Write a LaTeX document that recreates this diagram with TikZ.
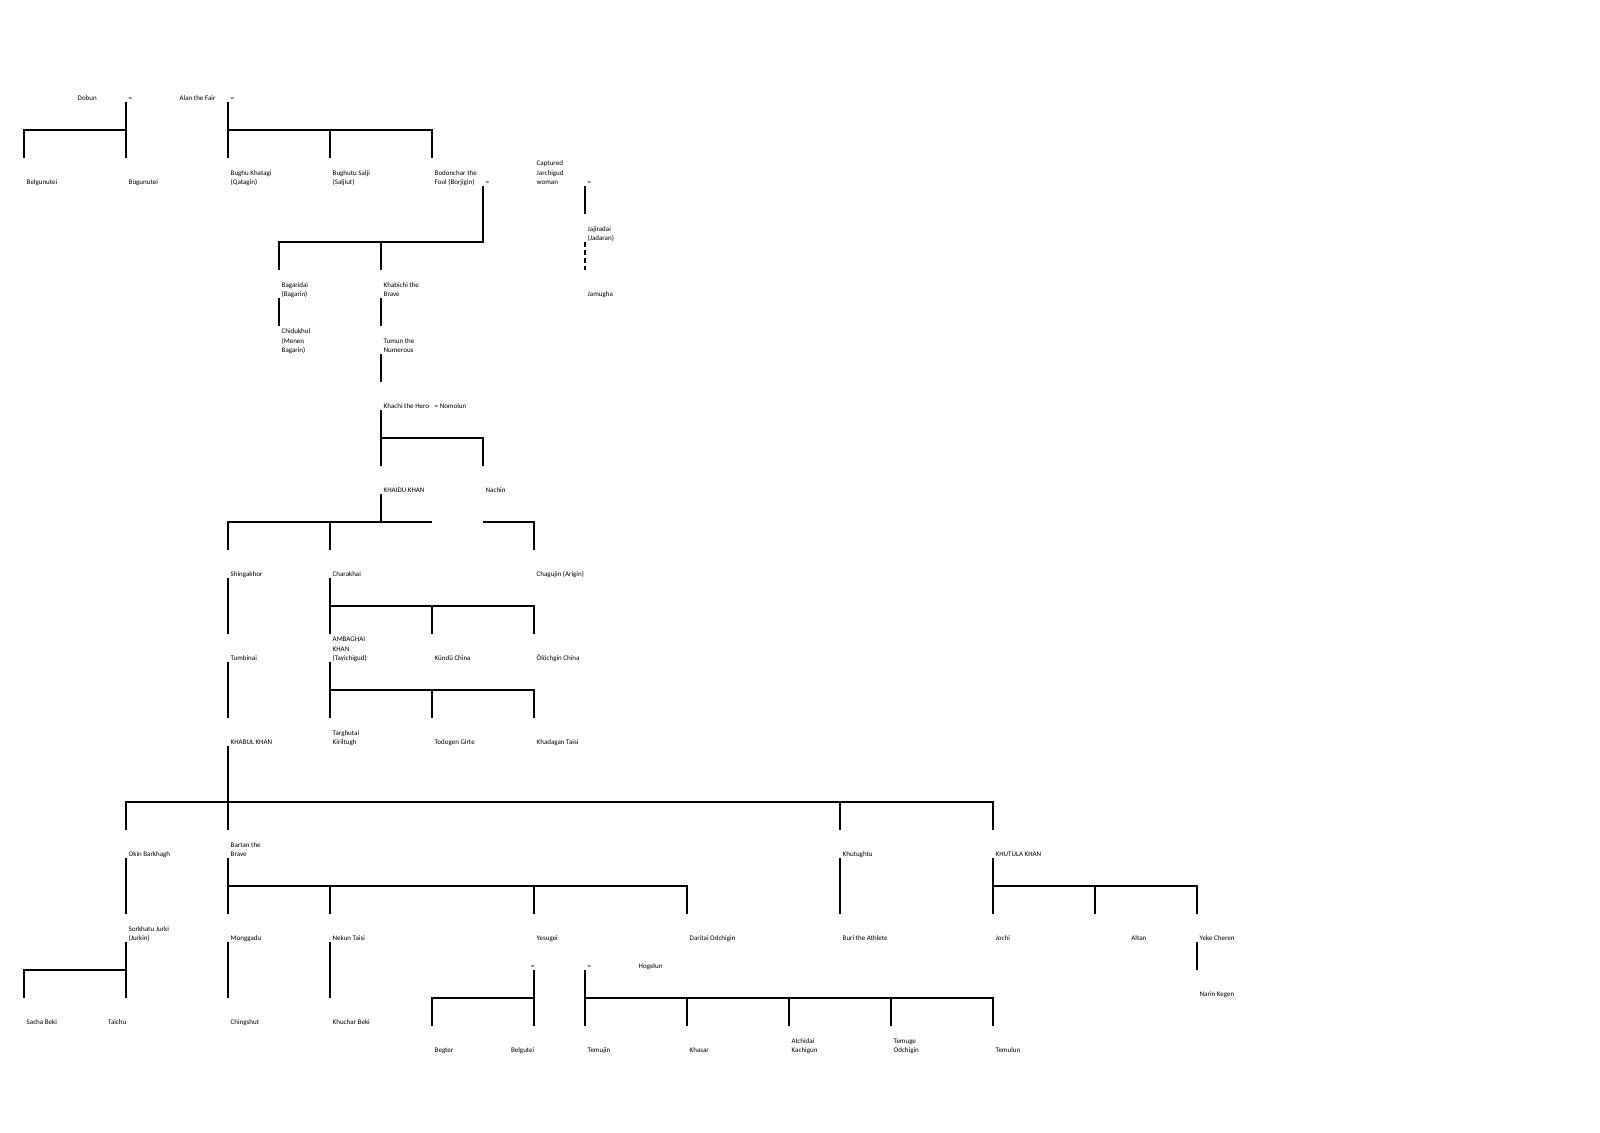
\documentclass[tikz,border=0pt]{standalone}
\usepackage{fontspec}
\setmainfont{Carlito}
\usetikzlibrary{calc}

\begin{document}
\begin{tikzpicture}[x=1pt,y=-1pt,
    kin/.style={line width=2.2pt},
    lbl/.style={anchor=base west,inner sep=0pt,xshift=2.5pt,yshift=1.8pt,align=left,font=\fontsize{7}{9.2}\selectfont},
    lblr/.style={lbl,anchor=base east,xshift=-2pt,align=right}]
            % Define the cell width and the row height of the sheet
            \def\cw{51}  % width of a column
            \def\rh{28}  % height of a row

            \useasboundingbox (0,0) rectangle (1600,1132);

            % Calculate the corners of the cells
            \foreach \k in {0,...,23}{
              \foreach \r in {0,...,34}{
                \coordinate (C\k-\r) at ({24+\cw*\k},{102+\rh*\r});
              }
            }

            % Draw the names
            \node[lbl] (dobun) at (C1-0) {Dobun};
            \node[lbl] (eqa) at (C2-0) {=};
            \node[lbl] (alan) at (C3-0) {Alan the Fair};
            \node[lbl] (eqb) at (C4-0) {=};
            \node[lbl] (belgunutei) at (C0-3) {Belgunutei};
            \node[lbl] (bugunutei) at (C2-3) {Bugunutei};
            \node[lbl] (bughu) at (C4-3) {Bughu Khatagi\\(Qatagin)};
            \node[lbl] (bughutu) at (C6-3) {Bughutu Salji\\(Saljiut)};
            \node[lbl] (bodonchar) at (C8-3) {Bodonchar the\\Fool (Borjigin)};
            \node[lbl] (eqc) at (C9-3) {=};
            \node[lbl] (captured) at (C10-3) {Captured\\Jarchigud\\woman};
            \node[lbl] (eqd) at (C11-3) {=};
            \node[lbl] (jajiradai) at (C11-5) {Jajiradai\\(Jadaran)};
            \node[lbl] (bagaridai) at (C5-7) {Bagaridai\\(Bagarin)};
            \node[lbl] (khabichi) at (C7-7) {Khabichi the\\Brave};
            \node[lbl] (jamugha) at (C11-7) {Jamugha};
            \node[lbl] (chidukhul) at (C5-9) {Chidukhul\\(Menen\\Bagarin)};
            \node[lbl] (tumun) at (C7-9) {Tumun the\\Numerous};
            \node[lbl] (khachi) at (C7-11) {Khachi the Hero};
            \node[lbl] (nomolun) at (C8-11) {= Nomolun};
            \node[lbl] (khaidu) at (C7-14) {KHAIDU KHAN};
            \node[lbl] (nachin) at (C9-14) {Nachin};
            \node[lbl] (shingakhor) at (C4-17) {Shingakhor};
            \node[lbl] (charakhai) at (C6-17) {Charakhai};
            \node[lbl] (chagujin) at (C10-17) {Chagujin (Arigin)};
            \node[lbl] (tumbinai) at (C4-20) {Tumbinai};
            \node[lbl] (ambaghai) at (C6-20) {AMBAGHAI\\KHAN\\(Tayichigud)};
            \node[lbl] (kundu) at (C8-20) {Kündü China};
            \node[lbl] (olochgin) at (C10-20) {Ölöchgin China};
            \node[lbl] (khabul) at (C4-23) {KHABUL KHAN};
            \node[lbl] (targhutai) at (C6-23) {Targhutai\\Kiriltugh};
            \node[lbl] (todogen) at (C8-23) {Todogen Girte};
            \node[lbl] (khadagan) at (C10-23) {Khadagan Taisi};
            \node[lbl] (okin) at (C2-27) {Okin Barkhagh};
            \node[lbl] (bartan) at (C4-27) {Bartan the\\Brave};
            \node[lbl] (khutughtu) at (C16-27) {Khutughtu};
            \node[lbl] (khutula) at (C19-27) {KHUTULA KHAN};
            \node[lbl] (sorkhatu) at (C2-30) {Sorkhatu Jurki\\(Jurkin)};
            \node[lbl] (monggadu) at (C4-30) {Monggadu};
            \node[lbl] (nekun) at (C6-30) {Nekun Taisi};
            \node[lbl] (yesugei) at (C10-30) {Yesugei};
            \node[lbl] (daritai) at (C13-30) {Daritai Odchigin};
            \node[lbl] (buri) at (C16-30) {Buri the Athlete};
            \node[lbl] (jochi) at (C19-30) {Jochi};
            \node[lblr] (altan) at (C22-30) {Altan};
            \node[lbl] (yeke) at (C23-30) {Yeke Cheren};
            \node[lblr] (eqe) at (C10-31) {=};
            \node[lbl] (eqf) at (C11-31) {=};
            \node[lbl] (hogelun) at (C12-31) {Hogelun};
            \node[lbl] (narin) at (C23-32) {Narin Kegen};
            \node[lbl] (sacha) at (C0-33) {Sacha Beki};
            \node[lblr] (taichu) at (C2-33) {Taichu};
            \node[lbl] (chingshut) at (C4-33) {Chingshut};
            \node[lbl] (khuchar) at (C6-33) {Khuchar Beki};
            \node[lbl] (begter) at (C8-34) {Begter};
            \node[lblr] (belgutei) at (C10-34) {Belgutei};
            \node[lbl] (temujin) at (C11-34) {Temujin};
            \node[lbl] (khasar) at (C13-34) {Khasar};
            \node[lbl] (alchidai) at (C15-34) {Alchidai\\Kachigun};
            \node[lbl] (temuge) at (C17-34) {Temuge\\Odchigin};
            \node[lbl] (temulun) at (C19-34) {Temulun};

            % Draw Dobun and Alan the Fair
            \draw[kin] (C2-0) -- (C2-2);
            \draw[kin] (C0-2) -- (C0-1) -- (C2-1);
            \draw[kin] (C4-0) -- (C4-2);
            \draw[kin] (C4-1) -- (C8-1) -- (C8-2);
            \draw[kin] (C6-1) -- (C6-2);

            % Draw Bodonchar and the captured woman
            \draw[kin] (C9-3) -- (C9-5) -- (C5-5) -- (C5-6);
            \draw[kin] (C7-5) -- (C7-6);
            \draw[kin] (C11-3) -- (C11-4);
            \draw[kin,dash pattern=on 5pt off 3pt] (C11-5) -- (C11-6);
            \draw[kin] (C5-7) -- (C5-8);
            \draw[kin] (C7-7) -- (C7-8);
            \draw[kin] (C7-9) -- (C7-10);

            % Draw Khachi and Khaidu
            \draw[kin] (C7-11) -- (C7-13);
            \draw[kin] (C7-12) -- (C9-12) -- (C9-13);
            \draw[kin] (C7-14) -- (C7-15);
            \draw[kin] (C4-16) -- (C4-15) -- (C8-15);
            \draw[kin] (C6-15) -- (C6-16);
            \draw[kin] (C9-15) -- (C10-15) -- (C10-16);

            % Draw Shingakhor and Charakhai
            \draw[kin] (C4-17) -- (C4-19);
            \draw[kin] (C6-17) -- (C6-19);
            \draw[kin] (C6-18) -- (C10-18) -- (C10-19);
            \draw[kin] (C8-18) -- (C8-19);
            \draw[kin] (C4-20) -- (C4-22);
            \draw[kin] (C6-20) -- (C6-22);
            \draw[kin] (C6-21) -- (C10-21) -- (C10-22);
            \draw[kin] (C8-21) -- (C8-22);

            % Draw Khabul Khan
            \draw[kin] (C4-23) -- (C4-26);
            \draw[kin] (C2-26) -- (C2-25) -- (C19-25) -- (C19-26);
            \draw[kin] (C16-25) -- (C16-26);
            \draw[kin] (C2-27) -- (C2-29);
            \draw[kin] (C4-27) -- (C4-29);
            \draw[kin] (C4-28) -- (C13-28) -- (C13-29);
            \draw[kin] (C6-28) -- (C6-29);
            \draw[kin] (C10-28) -- (C10-29);
            \draw[kin] (C16-27) -- (C16-29);
            \draw[kin] (C19-27) -- (C19-29);
            \draw[kin] (C19-28) -- (C23-28) -- (C23-29);
            \draw[kin] (C21-28) -- (C21-29);

            % Draw the last generation
            \draw[kin] (C2-30) -- (C2-32);
            \draw[kin] (C2-31) -- (C0-31) -- (C0-32);
            \draw[kin] (C4-30) -- (C4-32);
            \draw[kin] (C6-30) -- (C6-32);
            \draw[kin] (C23-30) -- (C23-31);
            \draw[kin] (C10-31) -- (C10-33);
            \draw[kin] (C10-32) -- (C8-32) -- (C8-33);
            \draw[kin] (C11-31) -- (C11-33);
            \draw[kin] (C11-32) -- (C19-32) -- (C19-33);
            \draw[kin] (C13-32) -- (C13-33);
            \draw[kin] (C15-32) -- (C15-33);
            \draw[kin] (C17-32) -- (C17-33);

        \end{tikzpicture}
\end{document}
